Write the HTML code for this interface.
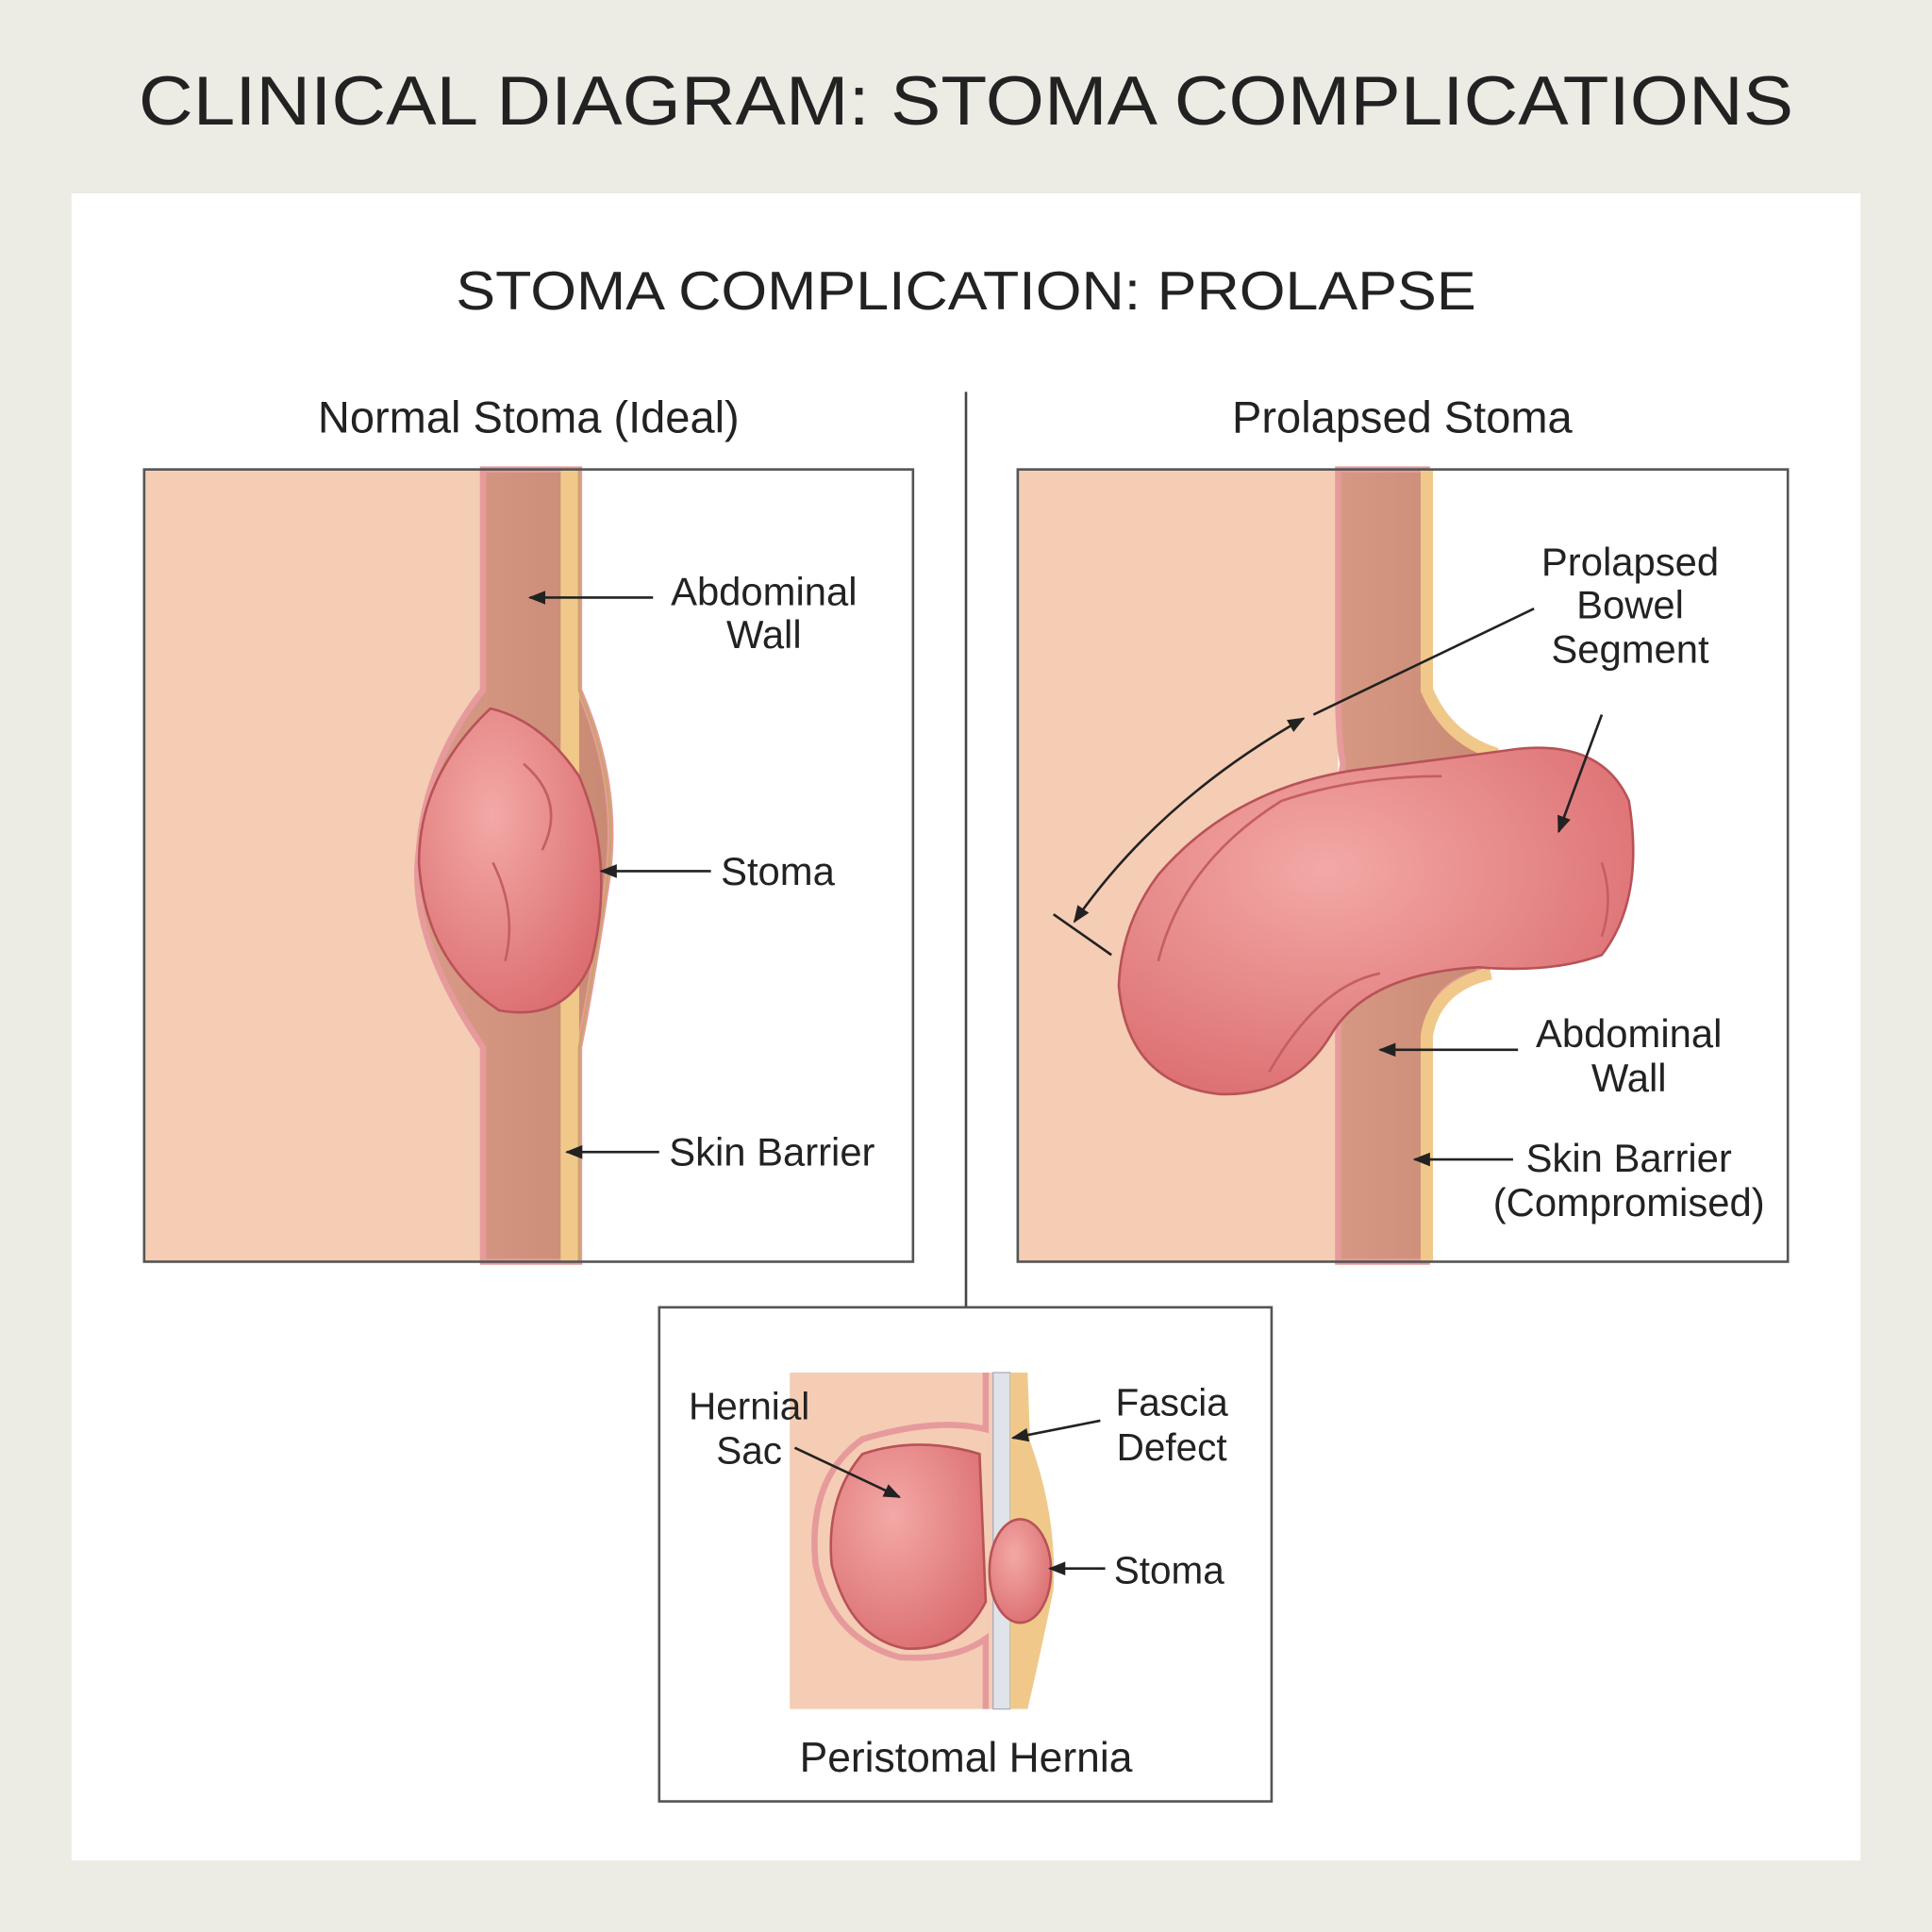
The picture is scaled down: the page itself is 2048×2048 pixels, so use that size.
<!DOCTYPE html>
<html><head><meta charset="utf-8"><style>html,body{margin:0;padding:0;background:#ecebe4}svg{display:block}</style></head><body>
<svg width="2048" height="2048" viewBox="0 0 1568 1568" xmlns="http://www.w3.org/2000/svg" font-family="Liberation Sans, sans-serif">
<defs>
<marker id="ar" viewBox="0 0 10 10" refX="9" refY="5" markerWidth="7" markerHeight="7" orient="auto-start-reverse"><path d="M0,1 L10,5 L0,9 Z" fill="#222"/></marker>
<radialGradient id="st" cx="0.4" cy="0.35" r="0.7"><stop offset="0" stop-color="#f3a9a6"/><stop offset="1" stop-color="#dc6f72"/></radialGradient>
<linearGradient id="wall" x1="0" x2="1"><stop offset="0" stop-color="#d99b86"/><stop offset="1" stop-color="#c98a74"/></linearGradient>
</defs>
<rect width="1568" height="1568" fill="#ecebe4"/>
<rect x="58" y="157" width="1452" height="1353" fill="#fff"/>
<text x="784" y="101" text-anchor="middle" font-size="56" fill="#222" textLength="1343" lengthAdjust="spacingAndGlyphs">CLINICAL DIAGRAM: STOMA COMPLICATIONS</text>
<text x="784" y="251" text-anchor="middle" font-size="44" fill="#222" textLength="828" lengthAdjust="spacingAndGlyphs">STOMA COMPLICATION: PROLAPSE</text>
<line x1="784" y1="318" x2="784" y2="1060" stroke="#444" stroke-width="2"/>
<text x="429" y="351" text-anchor="middle" font-size="36" fill="#222">Normal Stoma (Ideal)</text>
<text x="1138" y="351" text-anchor="middle" font-size="36" fill="#222">Prolapsed Stoma</text>

<!-- Left panel -->
<rect x="117" y="381" width="624" height="643" fill="#fff"/>
<rect x="117" y="381" width="275" height="643" fill="#f4cdb4"/>
<path d="M392,381 L470,381 L470,560 Q505,640 492,720 Q480,800 470,850 L470,1024 L392,1024 L392,850 Q330,760 340,690 Q345,620 392,560 Z" fill="url(#wall)" stroke="#e79a9c" stroke-width="5"/>
<rect x="455" y="381" width="15" height="643" fill="#f0c98a"/>
<path d="M470,381 L470,560 Q505,640 492,720 Q480,800 470,850 L470,1024" fill="none" stroke="#c9a46a" stroke-width="2"/>
<path d="M398,575 Q340,630 340,700 Q345,780 405,820 Q460,830 480,780 Q500,700 470,630 Q440,585 398,575 Z" fill="url(#st)" stroke="#b85258" stroke-width="2"/>
<path d="M425,620 Q460,650 440,690 M400,700 Q420,740 410,780" fill="none" stroke="#c45e63" stroke-width="2"/>
<rect x="117" y="381" width="624" height="643" fill="none" stroke="#555" stroke-width="2"/>
<line x1="530" y1="485" x2="430" y2="485" stroke="#222" stroke-width="2" marker-end="url(#ar)"/>
<text x="620" y="491" text-anchor="middle" font-size="32" fill="#222">Abdominal</text>
<text x="620" y="526" text-anchor="middle" font-size="32" fill="#222">Wall</text>
<line x1="577" y1="707" x2="488" y2="707" stroke="#222" stroke-width="2" marker-end="url(#ar)"/>
<text x="585" y="718" font-size="32" fill="#222">Stoma</text>
<line x1="535" y1="935" x2="460" y2="935" stroke="#222" stroke-width="2" marker-end="url(#ar)"/>
<text x="543" y="946" font-size="32" fill="#222">Skin Barrier</text>

<!-- Right panel -->
<rect x="826" y="381" width="625" height="643" fill="#fff"/>
<rect x="826" y="381" width="260" height="643" fill="#f4cdb4"/>
<path d="M1086,381 L1158,381 L1158,560 Q1175,600 1210,610 L1200,790 Q1160,800 1158,840 L1158,1024 L1086,1024 L1086,840 Q1090,800 1060,780 L1090,620 Q1086,600 1086,560 Z" fill="url(#wall)" stroke="#e79a9c" stroke-width="5"/>
<path d="M1158,381 L1158,560 Q1175,600 1215,612 M1210,790 Q1165,800 1158,840 L1158,1024" fill="none" stroke="#f0c98a" stroke-width="10"/>
<path d="M940,710 Q1000,640 1100,625 Q1180,615 1230,608 Q1300,600 1322,650 Q1335,730 1300,775 Q1260,790 1200,785 Q1110,790 1080,840 Q1050,890 990,888 Q915,880 908,800 Q910,750 940,710 Z" fill="url(#st)" stroke="#b85258" stroke-width="2"/>
<path d="M940,780 Q960,700 1040,650 Q1100,630 1170,630 M1030,870 Q1070,800 1120,790 M1300,700 Q1310,730 1300,760" fill="none" stroke="#c45e63" stroke-width="2"/>
<rect x="826" y="381" width="625" height="643" fill="none" stroke="#555" stroke-width="2"/>
<path d="M1058,583 Q940,650 872,748" fill="none" stroke="#222" stroke-width="2" marker-start="url(#ar)" marker-end="url(#ar)"/>
<line x1="855" y1="742" x2="902" y2="775" stroke="#222" stroke-width="2"/>
<line x1="1245" y1="494" x2="1066" y2="580" stroke="#222" stroke-width="2"/>
<text x="1323" y="467" text-anchor="middle" font-size="32" fill="#222">Prolapsed</text>
<text x="1323" y="502" text-anchor="middle" font-size="32" fill="#222">Bowel</text>
<text x="1323" y="538" text-anchor="middle" font-size="32" fill="#222">Segment</text>
<line x1="1300" y1="580" x2="1265" y2="675" stroke="#222" stroke-width="2" marker-end="url(#ar)"/>
<line x1="1232" y1="852" x2="1120" y2="852" stroke="#222" stroke-width="2" marker-end="url(#ar)"/>
<text x="1322" y="850" text-anchor="middle" font-size="32" fill="#222">Abdominal</text>
<text x="1322" y="886" text-anchor="middle" font-size="32" fill="#222">Wall</text>
<line x1="1228" y1="941" x2="1148" y2="941" stroke="#222" stroke-width="2" marker-end="url(#ar)"/>
<text x="1322" y="951" text-anchor="middle" font-size="32" fill="#222">Skin Barrier</text>
<text x="1322" y="987" text-anchor="middle" font-size="32" fill="#222">(Compromised)</text>

<!-- Bottom box -->
<rect x="535" y="1061" width="497" height="401" fill="#fff" stroke="#555" stroke-width="2"/>
<rect x="641" y="1114" width="165" height="273" fill="#f4cdb4"/>
<path d="M806,1114 L820,1114 L820,1387 L806,1387 Z" fill="#dfe3ea" stroke="#aab" stroke-width="1"/>
<path d="M820,1114 L834,1114 L836,1170 Q858,1230 855,1290 Q845,1340 834,1387 L820,1387 Z" fill="#f0c98a"/>
<path d="M800,1114 L800,1160 Q760,1150 700,1168 Q655,1200 662,1270 Q675,1330 730,1345 Q775,1348 800,1330 L800,1387" fill="none" stroke="#e79a9c" stroke-width="5"/>
<path d="M795,1180 Q745,1165 700,1180 Q670,1215 675,1270 Q690,1330 735,1338 Q780,1340 800,1300 Z" fill="url(#st)" stroke="#b85258" stroke-width="2"/>
<ellipse cx="828" cy="1275" rx="25" ry="42" fill="url(#st)" stroke="#b85258" stroke-width="2"/>
<text x="608" y="1152" text-anchor="middle" font-size="31" fill="#222">Hernial</text>
<text x="608" y="1188" text-anchor="middle" font-size="31" fill="#222">Sac</text>
<line x1="645" y1="1175" x2="730" y2="1215" stroke="#222" stroke-width="2" marker-end="url(#ar)"/>
<text x="951" y="1149" text-anchor="middle" font-size="31" fill="#222">Fascia</text>
<text x="951" y="1185" text-anchor="middle" font-size="31" fill="#222">Defect</text>
<line x1="893" y1="1153" x2="822" y2="1167" stroke="#222" stroke-width="2" marker-end="url(#ar)"/>
<line x1="897" y1="1273" x2="852" y2="1273" stroke="#222" stroke-width="2" marker-end="url(#ar)"/>
<text x="904" y="1285" font-size="31" fill="#222">Stoma</text>
<text x="784" y="1438" text-anchor="middle" font-size="34" fill="#222">Peristomal Hernia</text>
</svg>
</body></html>
